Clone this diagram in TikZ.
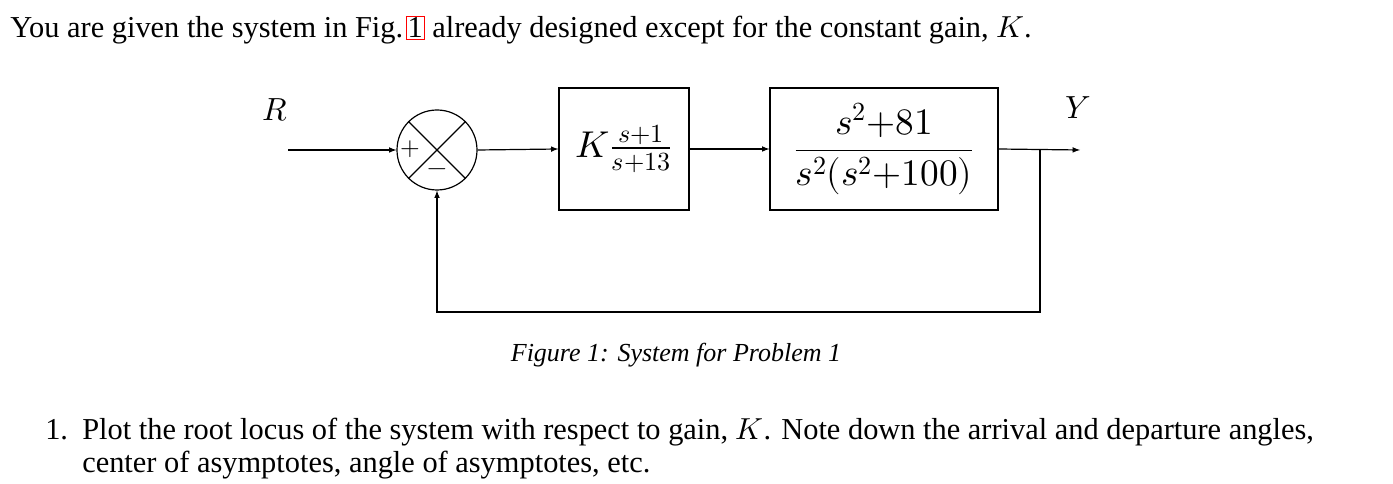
\documentclass[tikz,border=0pt]{standalone}
\usepackage{fontspec}
\setmainfont{Liberation Serif}
\usepackage{unicode-math}
\setmathfont{Latin Modern Math}
\begin{document}
\begin{tikzpicture}[x=0.75pt,y=-0.75pt,
  blk/.style={draw,line width=0.9pt,minimum width=130*0.75pt,minimum height=122*0.75pt,inner sep=0pt},
  arr/.style={-latex,line width=0.9pt},
  ln/.style={line width=0.9pt},
  body/.style={font=\fontsize{22.8}{27}\selectfont,anchor=west,inner sep=0pt}]
\useasboundingbox (0,0) rectangle (1393,484);
\node[body] (t1) at (10,30) {You are given the system in Fig.\kern2pt{\setlength{\fboxsep}{1pt}\textcolor{red}{\fbox{\color{black}1}}} already designed except for the constant gain, $K$.};
\node (R) at (275,110) {\fontsize{24}{28}\selectfont $R$};
\node (Y) at (1078,108) {\fontsize{24}{28}\selectfont $Y$};
\coordinate (in) at (288,150);
\node[draw,circle,ln,minimum size=80*0.75pt,inner sep=0pt] (sum) at (437,150) {};
\draw[ln] (sum.north west) -- (sum.south east) (sum.north east) -- (sum.south west);
\node at (410,149) {\fontsize{19}{22}\selectfont $+$};
\node at (437,172) {\fontsize{19}{22}\selectfont $-$};
\node[blk] (b1) at (624,149) {\fontsize{28}{32}\selectfont $K\frac{s+1}{s+13}$};
\node[blk,minimum width=228*0.75pt] (b2) at (884,149) {\fontsize{28}{32}\selectfont $\dfrac{s^2{+}81}{s^2(s^2{+}100)}$};
\coordinate (out) at (1080,150);
\coordinate (br) at (1040,150);
\coordinate (c1) at (1040,312);
\coordinate (c2) at (437,312);
\draw[arr] (in) -- (sum.west);
\draw[arr] (sum.east) -- (b1.west);
\draw[arr] (b1.east) -- (b2.west);
\draw[arr] (b2.east) -- (out);
\draw[arr] (br) -- (c1) -- (c2) -- (sum.south);
\node (cap) at (676,355) {\fontsize{19.5}{22}\selectfont\itshape Figure 1: System for Problem 1};
\node[body,anchor=base west] (n1) at (45,440) {1.};
\node[body,anchor=base west] (l1) at (82,440) {Plot the root locus of the system with respect to gain, $K$. Note down the arrival and departure angles,};
\node[body] (l2) at (82,465) {center of asymptotes, angle of asymptotes, etc.};
\end{tikzpicture}
\end{document}
